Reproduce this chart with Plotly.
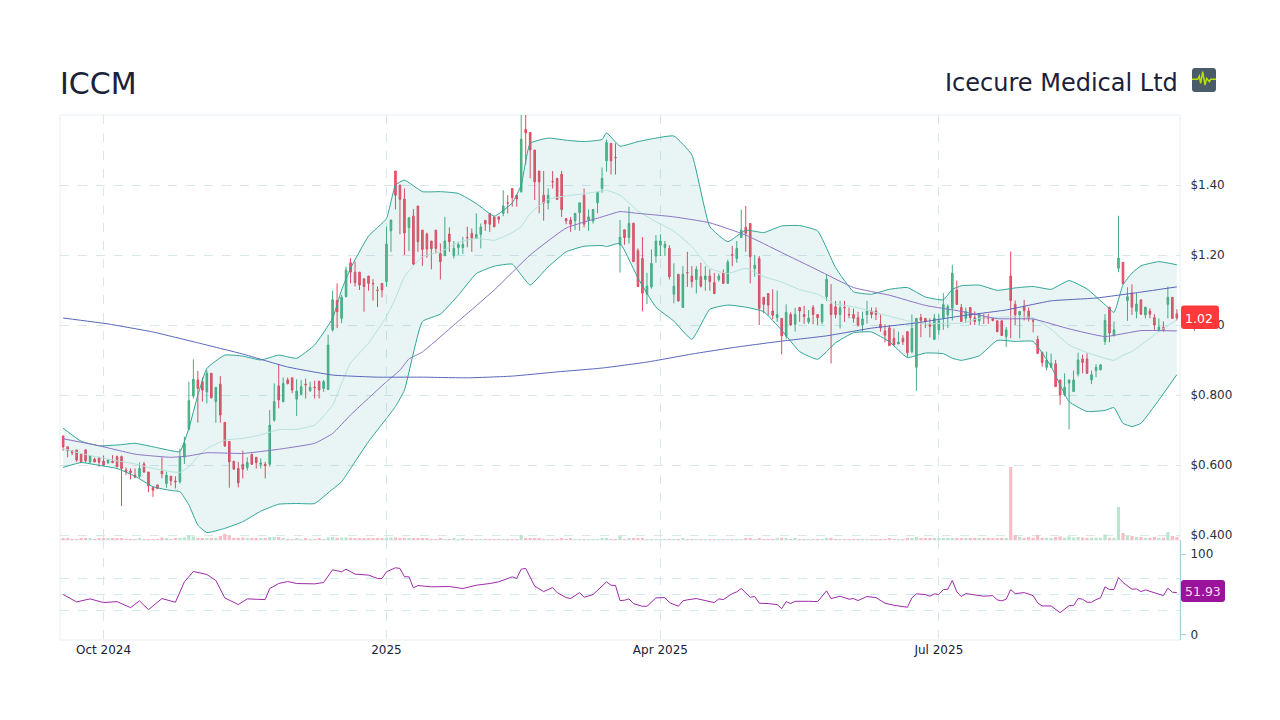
import plotly.graph_objects as go

# Chart values, one entry per trading day
opens = [
    .683, .652, .641, .643, .631, .643, .609, .617, .620, .611,
    .607, .611, .624, .624, .586, .583, .571, .567, .603, .580,
    .536, .543, .583, .547, .568, .554, .552, .622, .702, .797,
    .843, .838, .809, .862, .781, .831, .722, .667, .611, .590,
    .602, .592, .630, .622, .602, .602, .602, .728, .826, .781,
    .843, .849, .788, .802, .831, .812, .822, .839, .819, .816,
    .986, 1.070, 1.019, 1.081, 1.178, 1.151, 1.151, 1.132, 1.140, 1.119,
    1.100, 1.119, 1.124, 1.269, 1.440, 1.400, 1.360, 1.278, 1.311, 1.340,
    1.271, 1.260, 1.240, 1.271, 1.204, 1.198, 1.260, 1.198, 1.221, 1.221,
    1.250, 1.262, 1.247, 1.259, 1.299, 1.319, 1.309, 1.309, 1.319, 1.349,
    1.390, 1.371, 1.381, 1.559, 1.550, 1.500, 1.440, 1.371, 1.349, 1.410,
    1.419, 1.431, 1.304, 1.300, 1.298, 1.321, 1.371, 1.300, 1.297, 1.349,
    1.390, 1.469, 1.519, 1.479, 1.229, 1.272, 1.250, 1.291, 1.213, 1.190,
    1.088, 1.109, 1.197, 1.228, 1.221, 1.219, 1.088, 1.145, 1.050, 1.150,
    1.140, 1.130, 1.138, 1.130, 1.140, 1.121, 1.130, 1.149, 1.119, 1.201,
    1.190, 1.250, 1.279, 1.290, 1.161, 1.190, 1.079, 1.090, 1.040, 1.021,
    1.019, .968, 1.030, 1.002, 1.050, 1.030, 1.009, 1.050, 1.030, 1.009,
    1.081, 1.059, 1.052, 1.030, 1.050, 1.030, 1.030, 1.021, 1.000, 1.030,
    1.040, 1.040, 1.002, .983, .992, .962, .946, .962, .981, .924,
    .879, 1.021, 1.019, 1.002, .959, .986, 1.019, 1.029, 1.048, 1.100,
    1.050, 1.019, 1.050, 1.021, 1.012, 1.021, 1.021, 1.019, 1.012, 1.012,
    .967, 1.140, 1.059, 1.029, 1.053, 1.040, 1.012, .959, .922, .879,
    .879, .889, .843, .800, .834, .810, .860, .903, .903, .843,
    .870, .872, .953, 1.051, .970, 1.162, 1.179, 1.070, 1.091, 1.039,
    1.072, 1.029, 1.040, 1.021, .984, .993, 1.059, 1.079, 1.032,
]
highs = [
    .683, .652, .643, .643, .631, .645, .626, .621, .624, .627,
    .616, .628, .627, .627, .593, .590, .590, .607, .609, .580,
    .536, .543, .622, .581, .568, .568, .647, .681, .838, .902,
    .869, .850, .871, .862, .822, .854, .722, .667, .611, .609,
    .641, .622, .633, .622, .619, .609, .757, .833, .888, .850,
    .850, .849, .845, .843, .847, .838, .841, .841, .843, .972,
    1.098, 1.119, 1.086, 1.167, 1.191, 1.181, 1.151, 1.132, 1.140, 1.131,
    1.110, 1.119, 1.281, 1.300, 1.440, 1.400, 1.390, 1.309, 1.331, 1.340,
    1.271, 1.264, 1.240, 1.271, 1.233, 1.309, 1.279, 1.240, 1.238, 1.252,
    1.281, 1.276, 1.319, 1.290, 1.299, 1.319, 1.309, 1.309, 1.385, 1.371,
    1.390, 1.371, 1.605, 1.605, 1.550, 1.500, 1.440, 1.440, 1.390, 1.440,
    1.419, 1.440, 1.304, 1.309, 1.319, 1.349, 1.390, 1.330, 1.330, 1.381,
    1.450, 1.530, 1.519, 1.519, 1.300, 1.272, 1.338, 1.291, 1.219, 1.251,
    1.149, 1.216, 1.257, 1.259, 1.240, 1.228, 1.176, 1.145, 1.168, 1.209,
    1.168, 1.168, 1.178, 1.168, 1.159, 1.149, 1.147, 1.159, 1.187, 1.226,
    1.240, 1.330, 1.340, 1.290, 1.200, 1.197, 1.079, 1.090, 1.102, 1.098,
    1.019, 1.059, 1.036, 1.049, 1.052, 1.055, 1.043, 1.057, 1.030, 1.059,
    1.143, 1.117, 1.069, 1.069, 1.069, 1.050, 1.047, 1.038, 1.038, 1.069,
    1.050, 1.050, 1.030, 1.002, 1.000, .990, .981, .971, .983, 1.030,
    1.019, 1.032, 1.019, 1.019, 1.031, 1.031, 1.091, 1.059, 1.172, 1.127,
    1.060, 1.050, 1.050, 1.039, 1.034, 1.032, 1.032, 1.022, 1.012, 1.012,
    .994, 1.210, 1.070, 1.039, 1.072, 1.050, 1.019, .969, .924, .924,
    .918, .900, .843, .862, .843, .870, .921, .915, .919, .870,
    .888, .889, 1.031, 1.051, 1.010, 1.312, 1.179, 1.108, 1.116, 1.091,
    1.072, 1.051, 1.048, 1.031, 1.019, 1.010, 1.110, 1.079, 1.045,
]
lows = [
    .641, .622, .628, .609, .607, .607, .605, .607, .595, .597,
    .603, .605, .593, .483, .571, .559, .563, .562, .578, .522,
    .509, .531, .562, .535, .541, .533, .547, .603, .700, .790,
    .721, .781, .776, .790, .721, .721, .652, .535, .587, .536,
    .562, .584, .600, .590, .590, .562, .595, .724, .762, .779,
    .830, .805, .740, .800, .790, .809, .790, .790, .809, .814,
    .981, .991, 1.005, 1.079, 1.119, 1.110, 1.100, 1.038, 1.098, 1.070,
    1.051, 1.079, 1.109, 1.209, 1.330, 1.259, 1.200, 1.211, 1.171, 1.209,
    1.169, 1.192, 1.159, 1.205, 1.130, 1.198, 1.209, 1.190, 1.200, 1.203,
    1.222, 1.209, 1.247, 1.219, 1.269, 1.266, 1.279, 1.290, 1.311, 1.319,
    1.338, 1.338, 1.378, 1.459, 1.419, 1.357, 1.319, 1.298, 1.330, 1.390,
    1.357, 1.309, 1.288, 1.266, 1.271, 1.269, 1.279, 1.269, 1.290, 1.319,
    1.378, 1.438, 1.430, 1.430, 1.150, 1.229, 1.233, 1.181, 1.108, 1.039,
    1.060, 1.104, 1.178, 1.197, 1.197, 1.130, 1.062, 1.066, 1.050, 1.109,
    1.107, 1.090, 1.107, 1.098, 1.098, 1.088, 1.124, 1.117, 1.117, 1.168,
    1.178, 1.250, 1.209, 1.119, 1.138, 1.000, 1.033, 1.028, 1.017, 1.009,
    .916, .959, .998, .981, 1.009, 1.003, 1.003, 1.002, 1.000, 1.002,
    1.069, .890, 1.019, .990, 1.009, 1.019, 1.007, .995, .981, 1.004,
    1.019, 1.014, .981, .950, .940, .943, .946, .943, .909, .919,
    .812, .965, .991, .964, .957, .972, .986, .991, 1.013, 1.057,
    1.010, 1.005, 1.000, 1.000, 1.000, 1.003, 1.003, 1.010, .979, .969,
    .937, .962, 1.000, .962, 1.013, 1.010, .979, .918, .881, .870,
    .878, .824, .772, .796, .702, .810, .853, .862, .860, .831,
    .851, .870, .943, .951, .967, 1.151, 1.116, 1.012, 1.029, 1.019,
    1.029, 1.019, 1.019, .986, .981, .981, 1.019, 1.018, 1.013,
]
closes = [
    .652, .641, .635, .614, .607, .612, .626, .609, .608, .600,
    .614, .607, .595, .590, .581, .578, .565, .590, .580, .541,
    .528, .533, .575, .571, .555, .552, .622, .662, .784, .845,
    .819, .814, .862, .792, .822, .743, .654, .609, .588, .549,
    .588, .607, .602, .607, .606, .598, .714, .781, .786, .833,
    .833, .814, .811, .824, .829, .822, .821, .814, .838, .943,
    1.072, 1.038, 1.079, 1.157, 1.151, 1.121, 1.114, 1.110, 1.119, 1.118,
    1.099, 1.100, 1.231, 1.300, 1.371, 1.359, 1.263, 1.306, 1.174, 1.238,
    1.216, 1.217, 1.218, 1.219, 1.181, 1.240, 1.238, 1.219, 1.230, 1.230,
    1.249, 1.248, 1.259, 1.280, 1.289, 1.288, 1.281, 1.302, 1.340, 1.348,
    1.364, 1.360, 1.531, 1.549, 1.500, 1.409, 1.409, 1.349, 1.371, 1.409,
    1.359, 1.330, 1.297, 1.288, 1.319, 1.349, 1.288, 1.309, 1.330, 1.378,
    1.419, 1.521, 1.469, 1.478, 1.251, 1.250, 1.290, 1.181, 1.110, 1.091,
    1.111, 1.176, 1.240, 1.240, 1.231, 1.138, 1.111, 1.069, 1.145, 1.149,
    1.124, 1.159, 1.111, 1.140, 1.124, 1.090, 1.140, 1.119, 1.180, 1.200,
    1.219, 1.271, 1.262, 1.195, 1.171, 1.047, 1.059, 1.057, 1.028, 1.030,
    .969, 1.036, 1.000, 1.030, 1.040, 1.024, 1.020, 1.030, 1.021, 1.059,
    1.131, 1.030, 1.030, 1.049, 1.049, 1.029, 1.019, 1.000, 1.017, 1.040,
    1.030, 1.030, .992, .971, .941, .943, .951, .952, .921, .990,
    1.019, 1.013, 1.010, .996, 1.019, 1.012, 1.058, 1.053, 1.148, 1.059,
    1.010, 1.039, 1.021, 1.010, 1.031, 1.020, 1.019, 1.013, .981, .970,
    .986, 1.070, 1.029, 1.039, 1.041, 1.019, 1.011, .919, .893, .900,
    .891, .824, .800, .822, .843, .843, .900, .893, .862, .858,
    .879, .886, 1.013, .977, .986, 1.191, 1.118, 1.081, 1.051, 1.060,
    1.031, 1.051, 1.031, 1.000, .994, .986, 1.079, 1.019, 1.020,
]
volumes = [
    1.2, 1.2, 1.0, 1.0, 1.4, 1.7, 1.2, 1.0, 1.4, 1.2,
    1.2, 1.4, 2.0, 1.4, 1.0, 1.0, 1.0, 1.2, 1.0, 1.0,
    1.0, 1.0, 2.4, 1.2, 1.0, 1.2, 1.7, 2.5, 4.5, 3.5,
    1.7, 1.4, 1.2, 1.4, 2.2, 4.0, 6.0, 4.5, 1.7, 2.2,
    2.5, 1.2, 1.2, 1.2, 1.2, 2.0, 3.0, 3.0, 3.0, 1.4,
    1.0, 1.0, 1.2, 1.0, 1.2, 1.0, 1.0, 1.2, 1.0, 2.5,
    3.0, 2.2, 2.4, 2.5, 2.2, 1.7, 2.2, 1.7, 1.7, 1.7,
    1.2, 1.2, 2.2, 2.5, 2.5, 1.7, 1.4, 1.4, 1.2, 1.2,
    1.5, 1.5, 1.0, 1.0, 1.2, 1.0, 1.0, 1.2, 1.0, 1.2,
    1.0, 1.0, 1.0, 1.0, 1.0, 1.0, 1.0, 1.0, 1.0, 1.0,
    1.0, 1.0, 5.0, 1.4, 1.4, 1.4, 1.4, 1.0, 1.0, 1.0,
    1.0, 1.2, 1.0, 1.2, 1.0, 1.0, 1.0, 1.0, 1.0, 1.0,
    1.9, 1.9, 1.0, 1.0, 4.0, 1.0, 1.1, 1.2, 1.1, 1.1,
    1.0, 1.0, 1.0, 1.0, 1.0, 1.0, 1.0, 1.0, 1.4, 1.0,
    1.0, 1.0, 1.0, 1.0, 1.0, 1.0, 1.0, 1.0, 1.0, 1.0,
    1.0, 1.0, 1.7, 1.7, 1.0, 1.7, 1.0, 1.0, 1.0, 2.2,
    2.2, 1.7, 1.0, 1.4, 1.0, 1.0, 1.0, 1.0, 1.0, 1.0,
    2.2, 2.2, 1.0, 1.0, 1.0, 1.0, 1.0, 1.0, 1.0, 1.0,
    1.0, 1.0, 1.0, 1.0, 1.7, 1.0, 1.0, 1.0, 1.2, 1.7,
    3.0, 1.7, 1.2, 1.7, 1.7, 1.2, 1.2, 1.7, 1.2, 1.7,
    1.7, 1.4, 1.7, 1.7, 1.7, 1.2, 1.4, 1.2, 1.2, 1.2,
    1.7, 73.0, 5.0, 3.0, 2.2, 3.0, 2.2, 5.0, 2.2, 2.2,
    2.2, 3.0, 3.5, 2.2, 3.5, 2.5, 3.0, 2.5, 2.2, 2.2,
    2.2, 1.7, 5.5, 2.2, 2.2, 33.0, 7.0, 4.0, 4.0, 3.0,
    3.0, 2.2, 2.2, 3.0, 2.2, 2.2, 8.0, 4.0, 3.0,
]

# Bollinger bands, read at these bars
band_bars = [0, 4, 8, 12, 16, 20, 24, 26, 28, 30, 32, 36, 40, 44, 48, 52, 56, 60, 62, 64,
             68, 72, 74, 76, 80, 84, 88, 92, 96, 100, 102, 104, 108, 112, 116, 120, 121,
             124, 128, 132, 136, 140, 144, 148, 152, 156, 160, 164, 168, 172, 176, 180,
             184, 188, 192, 196, 198, 200, 204, 208, 212, 216, 220, 224, 228, 232, 234,
             236, 238, 240, 244, 248]
band_upper = [.705, .668, .655, .657, .662, .652, .641, .638, .705, .800, .876, .914, .911, .900,
              .914, .905, .943, 1.019, 1.100, 1.162, 1.254, 1.304, 1.400, 1.414, 1.381, 1.381,
              1.376, 1.347, 1.311, 1.349, 1.400, 1.519, 1.534, 1.528, 1.524, 1.530, 1.549,
              1.511, 1.524, 1.534, 1.540, 1.486, 1.281, 1.238, 1.271, 1.264, 1.283, 1.284,
              1.269, 1.164, 1.095, 1.088, 1.102, 1.107, 1.080, 1.072, 1.102, 1.112, 1.114,
              1.099, 1.106, 1.110, 1.102, 1.127, 1.103, 1.058, 1.036, 1.115, 1.148, 1.169, 1.181, 1.172]
band_mid = [.647, .633, .622, .612, .603, .590, .581, .579, .595, .624, .647, .671, .676, .686,
            .701, .702, .714, .771, .833, .892, .948, 1.024, 1.076, 1.138, 1.195, 1.209,
            1.236, 1.248, 1.242, 1.264, 1.281, 1.319, 1.359, 1.369, 1.375, 1.383, 1.385,
            1.371, 1.326, 1.295, 1.268, 1.224, 1.162, 1.147, 1.162, 1.138, 1.123, 1.101,
            1.088, 1.060, 1.052, 1.039, 1.025, 1.012, 1.003, 1.005, 1.005, 1.005, 1.019,
            1.022, 1.024, 1.021, .988, .943, .921, .905, .899, .914, .924, .943, .981, 1.015]
band_lower = [.593, .607, .599, .590, .568, .538, .527, .524, .486, .428, .407, .419, .438, .468,
              .488, .490, .490, .531, .552, .590, .667, .733, .767, .814, 1.010, 1.031,
              1.085, 1.147, 1.168, 1.174, 1.143, 1.114, 1.166, 1.209, 1.225, 1.227, 1.224,
              1.233, 1.134, 1.051, 1.011, .959, 1.045, 1.057, 1.051, 1.038, .985, .924,
              .902, .949, .978, .980, .952, .907, .920, .918, .905, .899, .912,
              .956, .953, .953, .881, .781, .753, .756, .764, .719, .710, .719, .786, .858]

ma200_bars = [0, 10, 20, 30, 40, 50, 60, 70, 80, 90, 100, 110, 120, 130, 140, 150, 160, 170, 180,
              190, 200, 210, 220, 230, 240, 248]
ma200 = [1.020, 1.003, .980, .949, .917, .880, .857, .851, .851, .849, .854, .866, .877, .894,
         .917, .937, .954, .969, .991, 1.006, 1.026, 1.043, 1.069, 1.077, 1.094, 1.109]

ma50_bars = [0, 8, 16, 24, 28, 32, 40, 48, 56, 60, 64, 72, 75, 77, 80, 88, 96, 104, 112, 120, 124,
             128, 136, 144, 152, 160, 168, 176, 184, 192, 200, 208, 216, 224, 232, 240, 248]
ma50 = [.675, .655, .631, .622, .626, .635, .633, .645, .662, .690, .743, .838, .871, .903, .923,
        1.011, 1.100, 1.200, 1.277, 1.309, 1.324, 1.319, 1.309, 1.292, 1.257, 1.207, 1.157,
        1.107, 1.085, 1.056, 1.039, 1.018, 1.017, .989, .967, .984, .983]

rsi_bars = [0, 3, 6, 9, 12, 15, 17, 19, 22, 25, 27, 29, 32, 34, 36, 38, 39, 41, 45, 46, 48, 50, 52,
            56, 58, 60, 62, 63, 65, 68, 70, 71, 72, 74, 75, 76, 77, 78, 79, 82, 85, 86, 89, 92,
            95, 97, 100, 101, 102, 103, 105, 107, 109, 110, 112, 113, 115, 116, 118, 121, 122,
            123, 124, 125, 126, 127, 129, 130, 132, 134, 135, 137, 138, 139, 141, 143, 145,
            146, 147, 149, 150, 151, 153, 154, 155, 157, 159, 160, 161, 162, 163, 166, 168,
            170, 171, 173, 175, 176, 177, 179, 181, 183, 185, 188, 189, 190, 192, 193, 194,
            195, 196, 197, 198, 199, 200, 201, 203, 205, 207, 208, 209, 210, 211, 212, 214,
            216, 217, 218, 220, 222, 224, 225, 226, 227, 228, 229, 230, 231, 232, 233, 234,
            235, 236, 238, 239, 240, 241, 243, 245, 246, 247, 248]
rsi = [49.6, 40.4, 44.2, 39.6, 40.8, 33.3, 41.7, 30.8, 44.6, 40.0, 65.4, 78.3, 74.6, 67.1, 45.4,
       40.4, 37.1, 44.2, 43.3, 57.1, 63.3, 65.8, 63.3, 62.9, 64.6, 80.4, 77.9, 81.2, 75.0, 73.8,
       69.6, 69.6, 77.9, 82.9, 82.1, 71.7, 71.7, 57.9, 60.8, 59.2, 59.6, 59.6, 57.1, 61.2,
       63.3, 65.4, 71.7, 69.6, 81.2, 82.1, 60.0, 53.3, 58.3, 52.0, 45.8, 44.6, 52.0, 46.2,
       49.6, 65.4, 61.2, 60.8, 42.1, 42.5, 44.2, 38.3, 35.0, 35.0, 45.4, 45.8, 39.6, 35.0,
       41.7, 43.0, 44.6, 42.1, 39.6, 44.2, 43.3, 50.8, 52.9, 57.1, 46.2, 47.1, 38.8, 38.3,
       37.1, 32.0, 40.8, 38.3, 41.2, 41.2, 40.8, 54.2, 44.6, 47.5, 43.8, 44.6, 42.1, 47.1,
       45.8, 38.8, 36.2, 33.8, 45.4, 50.4, 49.6, 47.5, 50.4, 49.6, 55.8, 56.2, 67.1, 52.9,
       47.1, 50.8, 48.8, 47.5, 48.3, 43.0, 41.7, 43.8, 55.8, 50.8, 52.0, 48.3, 39.2, 35.4,
       35.4, 27.0, 35.8, 35.8, 44.6, 43.8, 40.0, 40.0, 43.3, 45.4, 59.2, 55.8, 55.8, 70.8,
       64.6, 56.2, 56.7, 53.3, 55.4, 51.7, 48.3, 57.5, 52.5, 51.93]

month_bars = [9, 72, 133, 195]
month_labels = ["Oct 2024", "2025", "Apr 2025", "Jul 2025"]
price_ticks = [0.4, 0.6, 0.8, 1.0, 1.2, 1.4]
price_labels = ["$0.400", "$0.600", "$0.800", "$1.00", "$1.20", "$1.40"]

# page body keeps its 8px margin, so the figure is sized and placed around that
PAGE = 8
W, H = 1280 - 2 * PAGE, 720 - 2 * PAGE
L, R, T, B = 60, 1180, 115, 640
SPLIT = (640 - 540) / (B - T)

INK = "#1a2138"
GRID = "#d6e8ec"
TEAL = "#2fa597"
FONT = "DejaVu Sans"
bars = list(range(len(closes)))


def px(x, y):
    # window pixels to paper fractions, for the header and the value tags
    return (x - L) / (R - L), (B - y) / (B - T)


def rounded_box(x0, y0, x1, y1, r):
    pts = [(x0 + r, y0), (x1 - r, y0), (x1, y0 + r), (x1, y1 - r), (x1 - r, y1), (x0 + r, y1), (x0, y1 - r), (x0, y0 + r)]
    pts = [px(*p) for p in pts]
    s = "M%f,%f L%f,%f Q%f,%f %f,%f L%f,%f Q%f,%f %f,%f L%f,%f Q%f,%f %f,%f L%f,%f Q%f,%f %f,%f Z" % (
        *pts[0], *pts[1], *px(x1, y0), *pts[2], *pts[3], *px(x1, y1), *pts[4], *pts[5],
        *px(x0, y1), *pts[6], *pts[7], *px(x0, y0), *pts[0])
    return s


vol_colors = ["#b9e4cd" if c >= o else "#f9bcc4" for o, c in zip(opens, closes)]

fig = go.Figure()
fig.add_trace(go.Bar(x=bars, y=volumes, width=0.7, marker=dict(color=vol_colors, line_width=0), xaxis="x", yaxis="y3"))
fig.add_trace(go.Candlestick(
    x=bars, open=opens, high=highs, low=lows, close=closes, xaxis="x", yaxis="y",
    increasing=dict(line=dict(color="#47ad80", width=1), fillcolor="#5ab88f"),
    decreasing=dict(line=dict(color="#e8475f", width=1), fillcolor="#e0616f"),
))
fig.add_trace(go.Scatter(x=band_bars, y=band_lower, mode="lines", xaxis="x", yaxis="y",
                         line=dict(color=TEAL, width=1, shape="spline", smoothing=0.4)))
fig.add_trace(go.Scatter(x=band_bars, y=band_upper, mode="lines", xaxis="x", yaxis="y", fill="tonexty",
                         fillcolor="rgba(38,160,160,0.1)",
                         line=dict(color=TEAL, width=1, shape="spline", smoothing=0.4)))
fig.add_trace(go.Scatter(x=band_bars, y=band_mid, mode="lines", xaxis="x", yaxis="y",
                         line=dict(color="#b5e2da", width=1, shape="spline", smoothing=0.4)))
fig.add_trace(go.Scatter(x=ma50_bars, y=ma50, mode="lines", xaxis="x", yaxis="y",
                         line=dict(color="#8b73c6", width=1, shape="spline", smoothing=0.4)))
fig.add_trace(go.Scatter(x=ma200_bars, y=ma200, mode="lines", xaxis="x", yaxis="y",
                         line=dict(color="#5566bb", width=1, shape="spline", smoothing=0.4)))
fig.add_trace(go.Scatter(x=rsi_bars, y=rsi, mode="lines", xaxis="x2", yaxis="y2",
                         line=dict(color="#9c2ba8", width=1)))

shapes = [
    dict(type="rect", xref="paper", yref="paper", x0=0, x1=1, y0=0, y1=1, line=dict(color="#e6eef2", width=1), layer="below"),
    dict(type="line", xref="paper", yref="paper", x0=0, x1=1, y0=SPLIT, y1=SPLIT, line=dict(color="#e6eef2", width=1), layer="below"),
    # value tags on the right edge
    dict(type="path", xref="paper", yref="paper", path=rounded_box(1181, 305.5, 1219, 329, 3), fillcolor="#ff2f33", line_width=0, opacity=0.95),
    dict(type="path", xref="paper", yref="paper", path=rounded_box(1181, 580, 1225, 602, 3), fillcolor="#9b139b", line_width=0),
    # header icon
    dict(type="path", xref="paper", yref="paper", path=rounded_box(1192, 68, 1216, 92, 3), fillcolor="#4a5b69", line_width=0),
    dict(type="path", xref="paper", yref="paper", line=dict(color="#b6e000", width=1.5),
         path="M" + " L".join("%f,%f" % px(1160 + a / 3, 50 + b / 3) for a, b in
                              [(96, 88), (113, 88), (118, 78), (122, 100), (128, 65), (135, 105), (140, 85),
                               (148, 95), (152, 88), (168, 88)])),
]


def label(x, y, text, size, color, xanchor="left"):
    fx, fy = px(x, y)
    return dict(x=fx, y=fy, xref="paper", yref="paper", text=text, showarrow=False, xanchor=xanchor, yanchor="middle",
                font=dict(family=FONT, size=size, color=color))


annotations = [
    label(58, 83, "ICCM", 30, INK),
    label(1180, 83, "Icecure Medical Ltd", 24, INK, "right"),
    label(1199, 318, "1.02", 12.5, "#ffffff", "center"),
    label(1203, 591.5, "51.93", 12.5, "#f3dcf3", "center"),
]

xrange = [-0.7, 248.7]
fig.update_layout(
    width=W, height=H, autosize=False,
    margin=dict(l=L - PAGE, r=W - (R - PAGE), t=T - PAGE, b=H - (B - PAGE)),
    paper_bgcolor="white", plot_bgcolor="white",
    showlegend=False, hovermode=False, boxgap=0.5,
    font=dict(family=FONT, size=12, color=INK),
    shapes=shapes, annotations=annotations,
    xaxis=dict(domain=[0, 1], range=xrange, anchor="y", showticklabels=False, ticks="",
               tickvals=month_bars, showgrid=True, gridcolor=GRID, griddash="dash", gridwidth=1,
               zeroline=False, rangeslider=dict(visible=False)),
    xaxis2=dict(domain=[0, 1], range=xrange, anchor="y2", tickvals=month_bars, ticktext=month_labels,
                ticks="", ticklabelstandoff=1, showgrid=True, gridcolor=GRID, griddash="dash", gridwidth=1,
                zeroline=False, tickfont=dict(size=12, color=INK)),
    yaxis=dict(domain=[SPLIT, 1], range=[0.3857, 1.6], side="right", anchor="x", overlaying="y3",
               tickvals=price_ticks, ticktext=price_labels, ticks="outside", ticklen=7, tickcolor="rgba(0,0,0,0)",
               showgrid=True, gridcolor=GRID, griddash="dash", gridwidth=1, zeroline=False, showline=False,
               tickfont=dict(size=12, color="#2a3040")),
    yaxis2=dict(domain=[0, SPLIT], range=[-7, 117.5], side="right", anchor="x2",
                tickvals=[0, 100], ticks="outside", ticklen=5, tickcolor="#a8cfd9", ticklabelstandoff=2,
                showline=True, linecolor="#a8cfd9", linewidth=1, showgrid=False, zeroline=False,
                minor=dict(tickvals=[30, 50, 70], showgrid=True, gridcolor="#cfeaf4", griddash="dash", ticks=""),
                tickfont=dict(size=12, color="#2a3040")),
    yaxis3=dict(domain=[SPLIT, 1], range=[0, 425], anchor="x", side="left", visible=False, showgrid=False, zeroline=False),
)

fig.write_html("out.html")
